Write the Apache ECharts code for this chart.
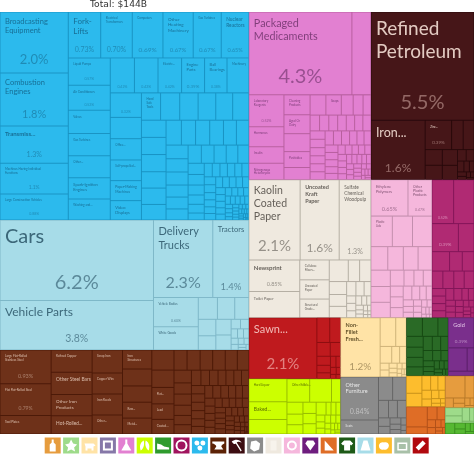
<!DOCTYPE html>
<html>
<head>
<meta charset="utf-8">
<style>html,body{margin:0;padding:0;background:#fff}#main{width:474px;height:474px}</style>
<script src="https://cdn.jsdelivr.net/npm/echarts@6/dist/echarts.min.js"></script>
</head>
<body>
<div id="main"></div>
<script>
// share of total exports (%), biggest first in each group
var machineryValues = [2.07,1.8,1.26,1.05,.88, .74,.72,.7,.69,.64,.63, .57,.525,.485,.465,.46,.44,.44,
  .42,.41,.41,.4,.39,.38, .38,.33,.33,.32,.31,.3, .26,.26,.25,.24,.23,.21, .22,.21,.21,.2,.2,.17,
  .19,.19,.175,.175,.16,.15, .154,.145,.143,.132,.13,.121, .12,.115,.11,.105,.1, .09,.085,.08,.075,.07,
  .056,.054,.052,.05,.048,.045, .05,.047,.045,.041,.037, .04,.038,.037,.036,.034, .036,.035,.033,.032,
  .031,.03,.028,.027, .025,.024,.022,.02, .021,.02,.019,.017, .016,.015,.014,.012,
  .011,.01,.01,.009,.009,.008,.008,.007,.007,.006,.006,.005,.005,.005,.004,.004,.003,.003,.003,.002,.002];
var machineryNames = ['Broadcasting\nEquipment','Combustion\nEngines','Transmiss...','Machines Having Individual\nFunctions','Large Construction Vehicles',
  'Fork-\nLifts','Electrical\nTransformers','Computers','Other\nHeating\nMachinery','Gas Turbines','Nuclear\nReactors',
  'Liquid Pumps','Air Conditioners','Valves','Gas Turbines','Other...','Washing and...','Spark-Ignition\nEngines',
  '','Electric...','','Engine\nParts','Ball\nBearings','', 'Machinery','Office...','Cars','Self-propelled...','Paper-Making\nMachines','Video\nDisplays',
  '','Hand\nSafe\nTools'];
var machineryPct = ['2.0%','1.8%','1.3%','1.1%','0.88%','0.73%','0.70%','0.69%','0.67%','0.67%','0.65%',
  '0.57%','0.52%','','','','','','0.42%','0.42%','0.42%','0.39%','0.38%','0.32%'];

var transportValues = [6.2,3.8,2.3,1.4,.66,.52,.21,.19,.155,.145,.12,.125,.115,.045,.04,
  .03,.028,.025,.022,.02,.018,.015,.012,.01,.008];
var transportNames = ['Cars','Vehicle Parts','Delivery\nTrucks','Tractors','Vehicle Bodies','White Goods'];
var transportPct = ['6.2%','3.8%','2.3%','1.4%','0.60%'];

var metalsValues = [.85,.8,.45, .47,.45,.43,.37, .345,.315,.315,.285, .275,.245,.235,.23,.23,
  .22,.19,.18,.17,.16,.13, .13,.125,.125,.12,.115,.11, .096,.096,.088,.08,.08,.072,
  .065,.065,.06,.058,.055,.05, .06,.056,.055,.054,.05,.048, .055,.05,.05,.045,.04,
  .042,.04,.037,.035,.03, .035,.033,.03,.028,.027, .034,.032,.03,.028,
  .028,.027,.026,.025,.024,.023,.021,.02,.019,.018,.016,.015,.014,.013,.012,.011,.01,.009,.008,.007,.006,.005,.004];
var metalsNames = ['Large Flat-Rolled\nStainless Steel','Flat Flat-Rolled Steel','Other Steel Bars',
  'Tool Plates','Refined Copper','Other Iron\nProducts','Hot-Rolled...',
  'Scrap Iron','Iron Reeds','Copper Wire','Other...',
  'Iron\nStructures','Iron...','','Metal...','Raw...',
  '','','Flat...','Lead','Coated...'];
var metalsPct = ['0.93%','0.79%'];

var chemicalsValues = [4.27,.79, .56,.35,.29,.29, .26,.247,.234,.208,.156, .16,.16,.12,.1,.08,
  .075,.073,.07,.068,.066,.064,.06, .063,.061,.06,.059,.057, .065,.063,.06,.057, .052,.05,.049,.048,
  .047,.045,.043,.041, .034,.032,.03,.028,
  .03,.029,.028,.027,.026,.025,.024,.023,.022,.021,.02,.019,.018,.017,.016,.015,.014,.013,.012,.011,.01,.009,.008,.007,.006];
var chemicalsNames = ['Packaged\nMedicaments','','Laboratory\nReagents','Hormones','Nitrogenous\nHeterocyclic','Insulin',
  'Cleaning\nProducts','Aged Or\nDairy','','Pesticides','Soaps'];
var chemicalsPct = ['4.3%','','0.52%'];

var mineralValues = [5.6,1.62,.39,.17,.16,.135,.125,.12,.11,.05,.045,.035,.03,.025,.02,.015,.012,.01,.008];
var mineralNames = ['Refined\nPetroleum','Iron...','Zinc...'];
var mineralPct = ['5.5%','1.6%','0.39%'];

var paperValues = [2.1,1.6,1.3,.82,.68,.3,.29,.28,.21,.125,.105,.125,.115,.1,.068,.06,.05,.035,.035,.032,.028,.024,
  .02,.018,.016,.014,.012,.01,.008,.007,.006,.005];
var paperNames = ['Kaolin\nCoated\nPaper','Uncoated\nKraft\nPaper','Sulfate\nChemical\nWoodpulp','Newsprint','Toilet Paper',
  'Cellulose\nFibers...','Uncoated\nPaper','Structural\nGrade...'];
var paperPct = ['2.1%','1.6%','1.3%','0.85%'];

var plasticsValues = [.68,.44,.33,.31,.3,.2,.185,.175,.165,.16,.155,.15,.11,.08,.07,.07,.075,.07,.065,.06,.055,.045,
  .04,.034,.026,.03,.028,.025,.022,.02,.018,.015,.012,.01,.008,.006,.004];
var plasticsNames = ['Ethylene\nPolymers','Other\nPlastic\nProducts','Plastic\nLids'];
var plasticsPct = ['0.65%','0.47%'];

var instrumentValues = [.5,.47,.39,.23,.18,.13,.12,.1,.1,.095,.09,.055,.052,.05,.055,.05,.05,.04,.035,.03,
  .03,.028,.026,.024,.022,.02,.018,.016,.014,.012,.01,.008];
var instrumentPct = ['0.52%','','0.39%'];

var woodValues = [2.04,.156,.132,.09,.07,.06,.05,.04,.03,.025,.02,.015,.012,.01];
var woodNames = ['Sawn...'];
var woodPct = ['2.1%'];

var foodValues = [.41,.32,.25,.26,.24,.1,.09,.07,.07,.08,.064,.064,.06,.03,.03,.028,.028,.026,.024,.022,.02,.018,.016,.014,.012,.01,.009,.008,.006,.005];
var foodNames = ['Hard Liquor','Baked...','Other Edible...'];

var animalValues = [1.15,.22,.15,.095,.065,.055,.03,.03,.02,.018,.016,.014,.012,.01,.008,.007,.006,.005];
var animalNames = ['Non-\nFillet\nFresh...'];
var animalPct = ['1.2%'];

var furnitureValues = [.84,.27,.17,.165,.09,.08,.08,.05,.045,.035,.03,.025,.02,.015,.01];
var furnitureNames = ['Other\nFurniture','Seats'];
var furniturePct = ['0.84%'];

var textileValues = [.14,.135,.09,.085,.08,.075,.07,.06,.055,.05,.045,.04,.035,.03,.025,.022,.02,.018,.016,.014,.012,.01,.008];
var goldValues = [.39,.22,.08,.06];
var goldNames = ['Gold'];
var goldPct = ['0.39%'];
var footwearValues = [.13,.1,.06,.05,.05,.04,.035,.03,.025,.02,.015,.01,.008];
var ceramicValues = [.2,.07,.06,.05,.03,.025,.02,.015,.012,.01,.008];
var oilValues = [.22,.1,.04,.03,.025,.02,.015,.01];
var vegValues = [.07,.06,.05,.03,.01];
var fruitValues = [.05,.03,.025,.02,.015,.01];

var groupNames = ['Machinery','Transportation','Metals','Chemical Products','Mineral Products','Paper Goods','Plastics and Rubbers',
  'Instruments','Wood Products','Foodstuffs','Animal Products','Miscellaneous','Textiles','Precious Metals','Footwear and Headwear','Stone And Glass','Animal and Vegetable Bi-Products','Vegetable Products','Fruit'];
var groupTotals = [25.9,16.19,10.46,10.25,8.65,8.42,4.21,2.9,2.81,2.53,1.95,1.88,1.22,.75,.6,.53,.46,.22,.16];
var groupValues = [machineryValues,transportValues,metalsValues,chemicalsValues,mineralValues,paperValues,plasticsValues,
  instrumentValues,woodValues,foodValues,animalValues,furnitureValues,textileValues,goldValues,footwearValues,ceramicValues,oilValues,vegValues,fruitValues];
var groupLabels = [machineryNames,transportNames,metalsNames,chemicalsNames,mineralNames,paperNames,plasticsNames,
  [],woodNames,foodNames,animalNames,furnitureNames,[],goldNames,[],[],[],[],[]];
var groupPct = [machineryPct,transportPct,metalsPct,chemicalsPct,mineralPct,paperPct,plasticsPct,
  instrumentPct,woodPct,[],animalPct,furniturePct,[],goldPct,[],[],[],[],[]];

// fill, cell border, name colour, percent colour for each group
var groupStyles = [
  ['#2cbaed','#1a94c4','rgba(10,60,90,.62)','rgba(10,60,90,.38)'],
  ['#a7dce8','#7fb8c8','rgba(30,70,90,.78)','rgba(30,70,90,.55)'],
  ['#6e3119','#4d1a08','rgba(255,235,220,.72)','rgba(255,235,220,.4)'],
  ['#e280d1','#b8609f','rgba(80,30,80,.68)','rgba(80,30,80,.5)'],
  ['#461618','#2a0a0c','rgba(255,235,225,.85)','rgba(255,220,210,.42)'],
  ['#efe9df','#b5afa4','rgba(60,55,50,.78)','rgba(60,55,50,.5)'],
  ['#f5b7dc','#c48fae','rgba(80,40,70,.7)','rgba(80,40,70,.5)'],
  ['#b02a73','#84175a','rgba(255,220,240,.7)','rgba(255,220,240,.5)'],
  ['#bf1a1e','#8e0f12','rgba(255,225,220,.8)','rgba(255,215,210,.55)'],
  ['#ccff00','#98bd00','rgba(60,70,0,.8)','rgba(60,70,0,.5)'],
  ['#ffe3a6','#cfb47a','rgba(70,55,20,.85)','rgba(70,55,20,.45)'],
  ['#8b8b8b','#666666','rgba(255,255,255,.8)','rgba(255,255,255,.45)'],
  ['#2a6a26','#174a14','#fff','#fff'],
  ['#7a2f8c','#5a1f68','rgba(255,235,255,.8)','rgba(255,235,255,.45)'],
  ['#fdbd2d','#c8921a','#000','#000'],
  ['#df6d26','#b2521a','#000','#000'],
  ['#e69c3e','#b87a2a','#000','#000'],
  ['#9edb8a','#79b468','#000','#000'],
  ['#56b832','#3b8e20','#000','#000']
];

// label sizes, the rest falls back on the default tiny size
var nameSizes = {'Cars':20,'Vehicle Parts':12,'Delivery\nTrucks':11,'Tractors':7.5,'Broadcasting\nEquipment':7.5,'Combustion\nEngines':7.5,
  'Transmiss...':6,'Fork-\nLifts':8,'Nuclear\nReactors':4.8,'Other\nHeating\nMachinery':4.5,'Packaged\nMedicaments':10.8,'Refined\nPetroleum':19,
  'Iron...':12.5,'Kaolin\nCoated\nPaper':10.5,'Uncoated\nKraft\nPaper':5.5,'Sulfate\nChemical\nWoodpulp':4.8,'Newsprint':6,'Toilet Paper':3.8,
  'Sawn...':11,'Non-\nFillet\nFresh...':5.5,'Other\nFurniture':5.5,'Baked...':5,'Gold':5.5,'Other Steel Bars':4.8,'Hot-Rolled...':4.8,'Other Iron\nProducts':4.5,
  'Engine\nParts':4,'Ball\nBearings':4,'Spark-Ignition\nEngines':4,'Video\nDisplays':4,'Paper-Making\nMachines':3.5,'Other\nPlastic\nProducts':3.5,'Ethylene\nPolymers':4};
var boldNames = ['Transmiss...','Uncoated\nKraft\nPaper','Newsprint','Non-\nFillet\nFresh...'];
var pctSizes = {'6.2%':20,'5.5%':20,'4.3%':20,'3.8%':10.5,'2.3%':16,'2.1%':15,'2.0%':13,'1.8%':11,'1.6%':12,'1.4%':9.5,'1.3%':7,'1.2%':10,'1.1%':5,
  '0.88%':3.5,'0.93%':5.5,'0.79%':5,'0.85%':5.5,'0.84%':7,'0.73%':7,'0.70%':7,'0.69%':6.5,'0.67%':6,'0.65%':5.5,'0.39%':4.5};

var legendColors = ['#e69c3e','#9edb8a','#ffe3a6','#8678a8','#e280d1','#ccff00','#2f9b2e','#a0145e','#2cbaed','#5c2206','#3c0d11',
  '#8b8b8b','#efe9df','#f5b7dc','#6e1d7e','#df6d26','#1d5a17','#a7dce8','#fdbd2d','#a8c0a8','#b1090e'];
var legendIcons = ['M7 2h2v3l2 2v7H5V7l2-2z','M8 2l2 4 4 1-3 3 1 4-4-2-4 2 1-4-3-3 4-1z','M3 6h9l2 2-2 1v4h-2v-2H6v2H4V9z','M3 3h10v10H3zM5 5v6h6V5z',
  'M7 2h2v4l4 7H3l4-7z','M4 13C2 7 5 4 7 3c1 4 0 8-3 10zM12 13c2-6-1-9-3-10-1 4 0 8 3 10z','M2 6l4 1 3 2 5 1v2H2z','M8 2a6 6 0 1 0 .01 0zM8 4a4 4 0 1 1-.01 0z',
  'M5 3a2.5 2.5 0 1 0 .01 0zM11 3a2.5 2.5 0 1 0 .01 0zM8 8a2.5 2.5 0 1 0 .01 0z','M2 4h12v2c-2 1-3 2-3 3l2 3H4l2-3C6 8 4 6 2 6z','M3 4c4-3 8-2 10 1-3-1-4-1-5 0l5 8-1 1-5-8c-1 1-2 1-4-2z',
  'M4 4l5-1 4 3-1 6-5 2-4-3z','M5 3h6v10H5z','M8 3a5 5 0 1 0 .01 0zM8 5a3 3 0 1 1-.01 0z','M3 6l2-3h6l2 3-5 7z','M4 3l9 10H4z','M5 3h6l3 3-2 2-1-1v6H5V7L4 8 2 6z',
  'M6 3h4l3 10H3z','M3 8c0-3 4-4 5-3 2-1 5 0 5 3s-3 5-5 4c-2 1-5 0-5-4z','M3 5h10v8H3zM4.5 6.5v5h7v-5z','M3 10l7-7 3 3-7 7z'];

var fontName = 'Lato,"Noto Sans",sans-serif';
var clear = 'rgba(0,0,0,0)';

function nameSize(text) {
	return nameSizes[text] || 3;
}
function pctSize(text) {
	return pctSizes[text] || 3.5;
}

function buildTree(percentLayer) {
	return groupNames.map(function (group, g) {
		var style = groupStyles[g];
		return {
			name: group,
			value: groupTotals[g],
			// a white background from the group would show between cells
			itemStyle: { borderWidth: 0, gapWidth: 0, borderColor: percentLayer ? clear : style[1] },
			children: groupValues[g].map(function (v, i) {
				var text = percentLayer ? (groupPct[g][i] || '') : (groupLabels[g][i] || '');
				var node = { name: text, value: v };
				if (percentLayer) {
					node.itemStyle = { color: clear, borderColor: clear, borderWidth: 0 };
					node.label = { show: !!text, color: style[3], fontSize: pctSize(text), position: 'insideBottom',
						align: 'center', verticalAlign: 'bottom', padding: [0, 0, 3 + pctSize(text) / 4, 0], fontFamily: fontName };
				} else {
					node.itemStyle = { color: style[0], borderColor: style[1], borderWidth: 0.5 };
					node.label = { show: !!text, color: style[2], fontSize: nameSize(text), lineHeight: nameSize(text) * 1.25,
						fontWeight: boldNames.indexOf(text) >= 0 ? 'bold' : 'normal',
						position: 'insideTopLeft', padding: [4, 0, 0, 4.5], overflow: 'none', fontFamily: fontName };
				}
				return node;
			})
		};
	});
}

function treemapSeries(percentLayer) {
	var rootStyle = { borderWidth: 0, gapWidth: 0, borderColor: clear };
	return {
		type: 'treemap',
		left: 0,
		top: 12,
		width: 474,
		height: 422,
		roam: false,
		nodeClick: false,
		silent: true,
		animation: false,
		visibleMin: 0,
		breadcrumb: { show: false },
		itemStyle: rootStyle,
		levels: [{ itemStyle: rootStyle }],
		data: buildTree(percentLayer)
	};
}

var myChart = echarts.init(document.getElementById('main'), null, { renderer: 'canvas' });

var legendGraphics = [];
legendColors.forEach(function (color, i) {
	echarts.graphic.registerShape('legendIcon' + i, echarts.graphic.extendPath(legendIcons[i], {}));
	legendGraphics.push({
		type: 'group',
		x: 44.7 + i * 18.4,
		y: 437.5,
		silent: true,
		children: [
			{ type: 'rect', shape: { x: 0, y: 0, width: 16, height: 16 }, style: { fill: color } },
			{ type: 'legendIcon' + i, style: { fill: i === 12 ? '#f7f3ec' : '#fff' } }
		]
	});
});

var option = {
	title: {
		text: 'Total: $144B',
		left: 90,
		top: 0,
		padding: 0,
		textStyle: { fontFamily: '"DejaVu Sans"', fontSize: 9.2, fontWeight: 'normal', color: '#333' }
	},
	series: [treemapSeries(false), treemapSeries(true)],
	graphic: legendGraphics
};
myChart.setOption(option);
</script>
</body>
</html>
